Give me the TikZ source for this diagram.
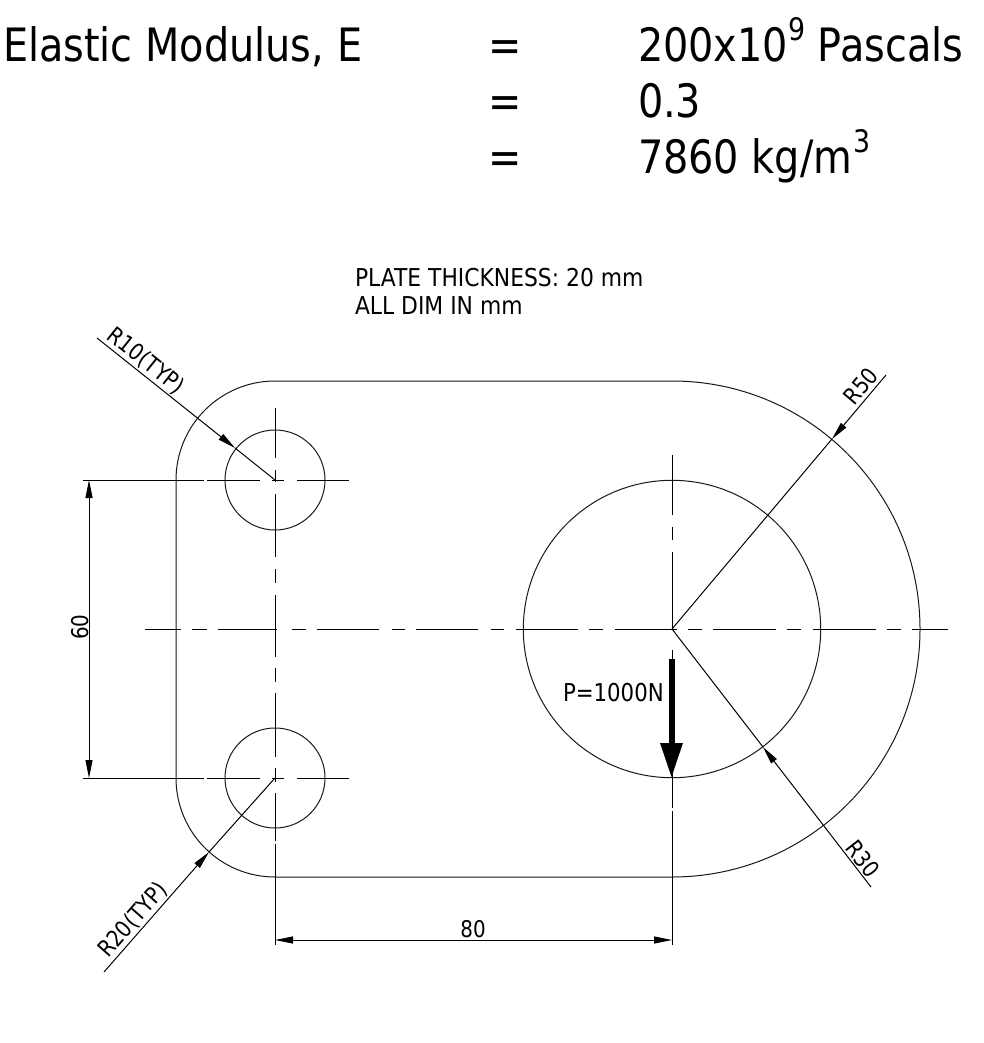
\documentclass[tikz,border=0pt]{standalone}
\usepackage{fontspec}
\usetikzlibrary{arrows.meta}
\newfontfamily\djcond[FakeStretch=0.865]{DejaVu Sans}
\newfontfamily\djwide[FakeStretch=0.888]{DejaVu Sans}
\newcommand{\bigsz}{\fontsize{46}{50}\selectfont\djcond}
\newcommand{\supsz}{\fontsize{31}{33}\selectfont\djcond}
\newcommand{\smsz}{\fontsize{24.6}{28}\selectfont\djcond}
\newcommand{\notesz}{\fontsize{24.6}{28}\selectfont\djwide}
\newcommand{\rotsz}{\fontsize{23}{26}\selectfont\djcond}
\tikzset{
  x=1pt,y=-1pt,
  thinline/.style={line width=1pt,black},
  outline/.style={line width=1pt,black!90},
  dimhead/.style={-{Triangle[length=18pt,width=7pt]}},
  dimboth/.style={{Triangle[length=18pt,width=7pt]}-{Triangle[length=18pt,width=7pt]}},
  bigtext/.style={anchor=base west,inner sep=0pt,outer sep=0pt,font=\bigsz},
  smalltext/.style={anchor=base west,inner sep=0pt,outer sep=0pt,font=\smsz},
  notetext/.style={anchor=base west,inner sep=0pt,outer sep=0pt,font=\notesz},
  rottext/.style={inner sep=0pt,outer sep=0pt,font=\rotsz},
}
\begin{document}
\begin{tikzpicture}
\useasboundingbox[fill=white] (0,0) rectangle (983,1043);
% centres
\coordinate (cbig) at (672,629);
\coordinate (ct) at (275,480);
\coordinate (cb) at (275,778);
% header text
\node[bigtext] (t1) at (3,62) {Elastic Modulus, E};
\node[bigtext] (e1) at (488,62) {=};
\node[bigtext] (e2) at (488,118) {=};
\node[bigtext] (e3) at (488,174) {=};
\node[bigtext] (v1) at (638,62) {200x10\raisebox{21pt}{\supsz 9} Pascals};
\node[bigtext] (v2) at (638,118) {0.3};
\node[bigtext] (v3) at (638,174) {7860 kg/m\kern1pt\raisebox{21pt}{\supsz 3}};
\node[notetext] (n1) at (355,286) {PLATE THICKNESS: 20 mm};
\node[notetext] (n2) at (355,314) {ALL DIM IN mm};
% plate outline
\draw[outline] (275,381) -- (672,381) arc (-90:90:248) -- (275,877) arc (90:180:99) -- (176,480) arc (180:270:99) -- cycle;
\draw[outline] (cbig) circle (148.7);
\draw[outline] (ct) circle (50);
\draw[outline] (cb) circle (50);
% centre lines
\foreach \a/\b in {145/181,192/207,218/277,292/306,317/379,392/405,416/478,491/504,516/578,589/603,615/677,688/702,713/776,787/801,813/876,887/901,912/948}
  \draw[thinline] (\a,629) -- (\b,629);
\foreach \a/\b in {455/515,527/540,552/630,650/740,750/808,811/945}
  \draw[thinline] (672,\a) -- (672,\b);
\foreach \a/\b in {408/458,470/482,494/557,569/583,595/657,668/682,693/757,768/782,793/841,844/945}
  \draw[thinline] (275,\a) -- (275,\b);
\foreach \y in {480,778}{
  \draw[thinline] (83,\y) -- (204,\y);
  \draw[thinline] (207,\y) -- (260,\y);
  \draw[thinline] (272,\y) -- (284,\y);
  \draw[thinline] (297,\y) -- (349,\y);
}
% dimensions
\coordinate (d60a) at (89,480);
\coordinate (d60b) at (89,778);
\draw[thinline,dimboth] (d60a) -- (d60b);
\coordinate (d80a) at (275,940);
\coordinate (d80b) at (672,940);
\draw[thinline,dimboth] (d80a) -- (d80b);
\node[rottext,rotate=90] (l60) at (80,627) {60};
\node[rottext] (l80) at (473,929) {80};
% radius leaders
\coordinate (r10e) at (97,338);
\coordinate (r10t) at (235,448);
\draw[thinline,dimhead] (r10e) -- (r10t);
\draw[thinline] (r10t) -- (ct);
\node[rottext,rotate=-38.6] (lr10) at (146,361) {R10(TYP)};
\coordinate (r20e) at (104,972);
\coordinate (r20t) at (209,852);
\draw[thinline,dimhead] (r20e) -- (r20t);
\draw[thinline] (r20t) -- (cb);
\node[rottext,rotate=48.6] (lr20) at (133,920) {R20(TYP)};
\coordinate (r50e) at (886,375);
\coordinate (r50t) at (832,439);
\draw[thinline,dimhead] (r50e) -- (r50t);
\draw[thinline] (r50t) -- (cbig);
\node[rottext,rotate=50] (lr50) at (861,386) {R50};
\coordinate (r30e) at (871,887);
\coordinate (r30t) at (763,747);
\draw[thinline,dimhead] (r30e) -- (r30t);
\draw[thinline] (r30t) -- (cbig);
\node[rottext,rotate=-52] (lr30) at (863,859) {R30};
% load
\coordinate (ps) at (671.5,659);
\coordinate (pe) at (671.5,778);
\draw[line width=6pt,-{Triangle[length=35pt,width=21pt]}] (ps) -- (pe);
\node[smalltext] (lp) at (563,701) {P=1000N};
\end{tikzpicture}
\end{document}
